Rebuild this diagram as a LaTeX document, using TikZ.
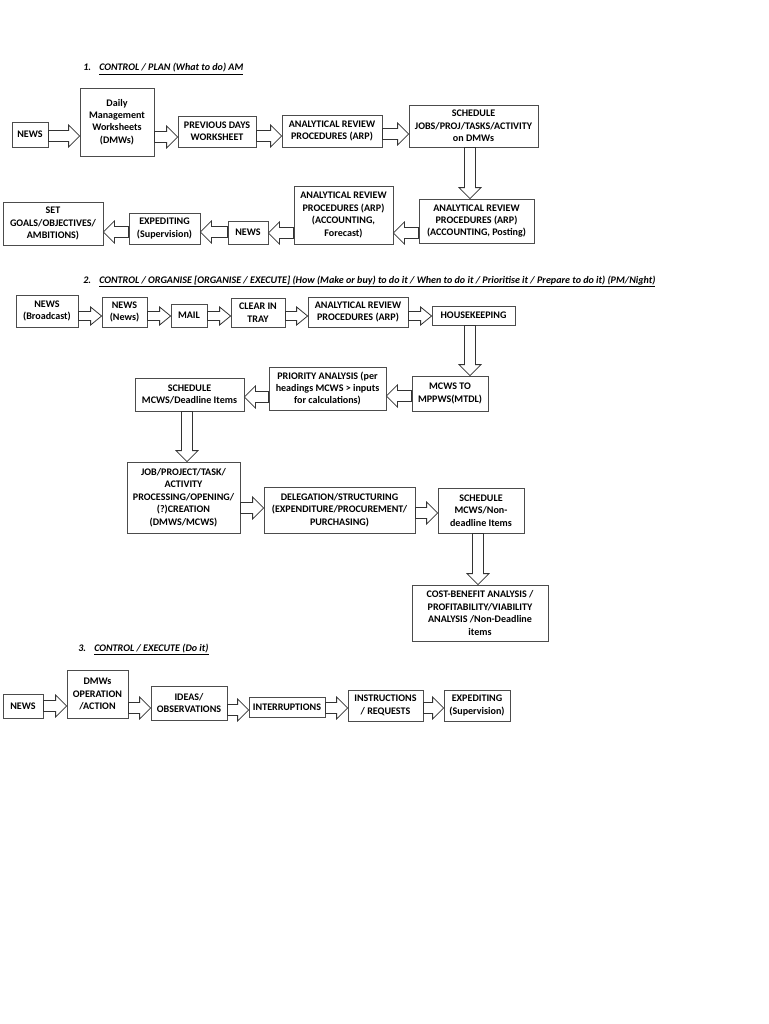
\documentclass[tikz,border=0pt]{standalone}
\usepackage{fontspec}
\setmainfont{Carlito}
\usetikzlibrary{calc}
\tikzset{
 box/.style={draw=black!70, line width=0.6pt, fill=white, align=center, inner sep=0pt, font=\bfseries\fontsize{7.55}{9.3}\selectfont},
 barrow/.style={draw=black!80, line width=0.6pt, fill=white, line join=miter},
 ttl/.style={anchor=base west, inner sep=0pt, font=\bfseries\itshape\fontsize{7.55}{9}\selectfont}
}
\def\hl{8.25pt}
\newcommand\bx[6]{\node[box, minimum width={(#4-#2)*0.75pt}, minimum height={(#5-#3)*0.75pt}] (#1) at ({(#2+#4)/2},{(#3+#5)/2}) {#6};}
\newcommand\arrR[4][5.5]{\draw[barrow] let \p1=(#2.east),\p2=(#3.west),\p3=(0,#4) in
 (\x1,\y3+#1*0.75pt) -- (\x2-\hl,\y3+#1*0.75pt) -- (\x2-\hl,\y3+2*#1*0.75pt) -- (\x2,\y3) -- (\x2-\hl,\y3-2*#1*0.75pt) -- (\x2-\hl,\y3-#1*0.75pt) -- (\x1,\y3-#1*0.75pt) -- cycle;}
\newcommand\arrL[4][5.5]{\draw[barrow] let \p1=(#2.west),\p2=(#3.east),\p3=(0,#4) in
 (\x1,\y3+#1*0.75pt) -- (\x2+\hl,\y3+#1*0.75pt) -- (\x2+\hl,\y3+2*#1*0.75pt) -- (\x2,\y3) -- (\x2+\hl,\y3-2*#1*0.75pt) -- (\x2+\hl,\y3-#1*0.75pt) -- (\x1,\y3-#1*0.75pt) -- cycle;}
\newcommand\arrD[4][5.5]{\draw[barrow] let \p1=(#2.south),\p2=(#3.north),\p3=(#4,0) in
 (\x3+#1*0.75pt,\y1) -- (\x3+#1*0.75pt,\y2+\hl) -- (\x3+2*#1*0.75pt,\y2+\hl) -- (\x3,\y2) -- (\x3-2*#1*0.75pt,\y2+\hl) -- (\x3-#1*0.75pt,\y2+\hl) -- (\x3-#1*0.75pt,\y1) -- cycle;}
\begin{document}
\begin{tikzpicture}[x=0.75pt,y=-0.75pt]
\useasboundingbox (0,0) rectangle (768,1024);
% ---------- Section 1
\node[ttl] (t1n) at (83,71) {1.};
\node[ttl] (t1) at (99,71) {\underline{CONTROL / PLAN (What to do) AM}};
\bx{n1}{12}{122}{48}{147}{NEWS}
\bx{dmw}{80}{88}{154}{156}{Daily\\Management\\Worksheets\\(DMWs)}
\bx{prev}{178}{116}{256}{147}{PREVIOUS DAYS\\WORKSHEET}
\bx{arp1}{282}{115}{382}{147}{ANALYTICAL REVIEW\\PROCEDURES (ARP)}
\bx{sch1}{409}{105}{538}{147}{SCHEDULE\\JOBS/PROJ/TASKS/ACTIVITY\\on DMWs}
\bx{arpP}{419}{199}{534}{243}{ANALYTICAL REVIEW\\PROCEDURES (ARP)\\(ACCOUNTING, Posting)}
\bx{arpF}{294}{186}{393}{244}{ANALYTICAL REVIEW\\PROCEDURES (ARP)\\(ACCOUNTING,\\Forecast)}
\bx{n1b}{228}{221}{268}{244}{NEWS}
\bx{exp1}{129}{213}{200}{244}{EXPEDITING\\(Supervision)}
\bx{goals}{3}{202}{103}{245}{SET\\GOALS/OBJECTIVES/\\AMBITIONS)}
\arrR{n1}{dmw}{136}
\arrR{dmw}{prev}{137}
\arrR{prev}{arp1}{136}
\arrR{arp1}{sch1}{134}
\arrD{sch1}{arpP}{470}
\arrL{arpP}{arpF}{233}
\arrL{arpF}{n1b}{233}
\arrL{n1b}{exp1}{232}
\arrL{exp1}{goals}{232}
% ---------- Section 2
\node[ttl] (t2n) at (83,283) {2.};
\node[ttl] (t2) at (99,283) {\underline{CONTROL / ORGANISE [ORGANISE / EXECUTE] (How (Make or buy) to do it / When to do it / Prioritise it / Prepare to do it) (PM/Night)}};
\bx{nb}{16}{295}{78}{327}{NEWS\\(Broadcast)}
\bx{nn}{102}{297}{147}{327}{NEWS\\(News)}
\bx{mail}{171}{304}{207}{327}{MAIL}
\bx{clr}{231}{298}{285}{327}{CLEAR IN\\TRAY}
\bx{arp2}{308}{297}{408}{327}{ANALYTICAL REVIEW\\PROCEDURES (ARP)}
\bx{hk}{432}{306}{515}{325}{HOUSEKEEPING}
\bx{mc}{412}{376}{488}{411}{MCWS TO\\MPPWS(MTDL)}
\bx{pri}{269}{367}{386}{410}{PRIORITY ANALYSIS (per\\headings MCWS > inputs\\for calculations)}
\bx{sd}{135}{378}{244}{411}{SCHEDULE\\MCWS/Deadline Items}
\bx{job}{127}{462}{240}{533}{JOB/PROJECT/TASK/\\ACTIVITY\\PROCESSING/OPENING/\\(?)CREATION\\(DMWS/MCWS)}
\bx{del}{264}{487}{415}{533}{DELEGATION/STRUCTURING\\(EXPENDITURE/PROCUREMENT/\\PURCHASING)}
\bx{snd}{438}{488}{524}{533}{SCHEDULE\\MCWS/Non-\\deadline Items}
\bx{cost}{412}{585}{548}{641}{COST-BENEFIT ANALYSIS /\\PROFITABILITY/VIABILITY\\ANALYSIS /Non-Deadline\\items}
\arrR[4.5]{nb}{nn}{316}
\arrR[4.5]{nn}{mail}{316}
\arrR[4.5]{mail}{clr}{316}
\arrR[4.5]{clr}{arp2}{316}
\arrR[4.5]{arp2}{hk}{316}
\arrD{hk}{mc}{470}
\arrL{mc}{pri}{396}
\arrL{pri}{sd}{397}
\arrD{sd}{job}{187}
\arrR{job}{del}{508}
\arrR{del}{snd}{513}
\arrD{snd}{cost}{478}
% ---------- Section 3
\node[ttl] (t3n) at (78,651) {3.};
\node[ttl] (t3) at (94,651) {\underline{CONTROL / EXECUTE (Do it)}};
\bx{n3}{3}{694}{43}{718}{NEWS}
\bx{dmw3}{67}{670}{128}{718}{DMWs\\OPERATION\\/ACTION}
\bx{ideas}{151}{686}{227}{720}{IDEAS/\\OBSERVATIONS}
\bx{intr}{249}{697}{325}{717}{INTERRUPTIONS}
\bx{instr}{348}{690}{423}{721}{INSTRUCTIONS\\/ REQUESTS}
\bx{exp3}{444}{690}{510}{721}{EXPEDITING\\(Supervision)}
\arrR{n3}{dmw3}{706}
\arrR{dmw3}{ideas}{708}
\arrR{ideas}{intr}{710}
\arrR{intr}{instr}{708}
\arrR{instr}{exp3}{708}
\end{tikzpicture}
\end{document}
